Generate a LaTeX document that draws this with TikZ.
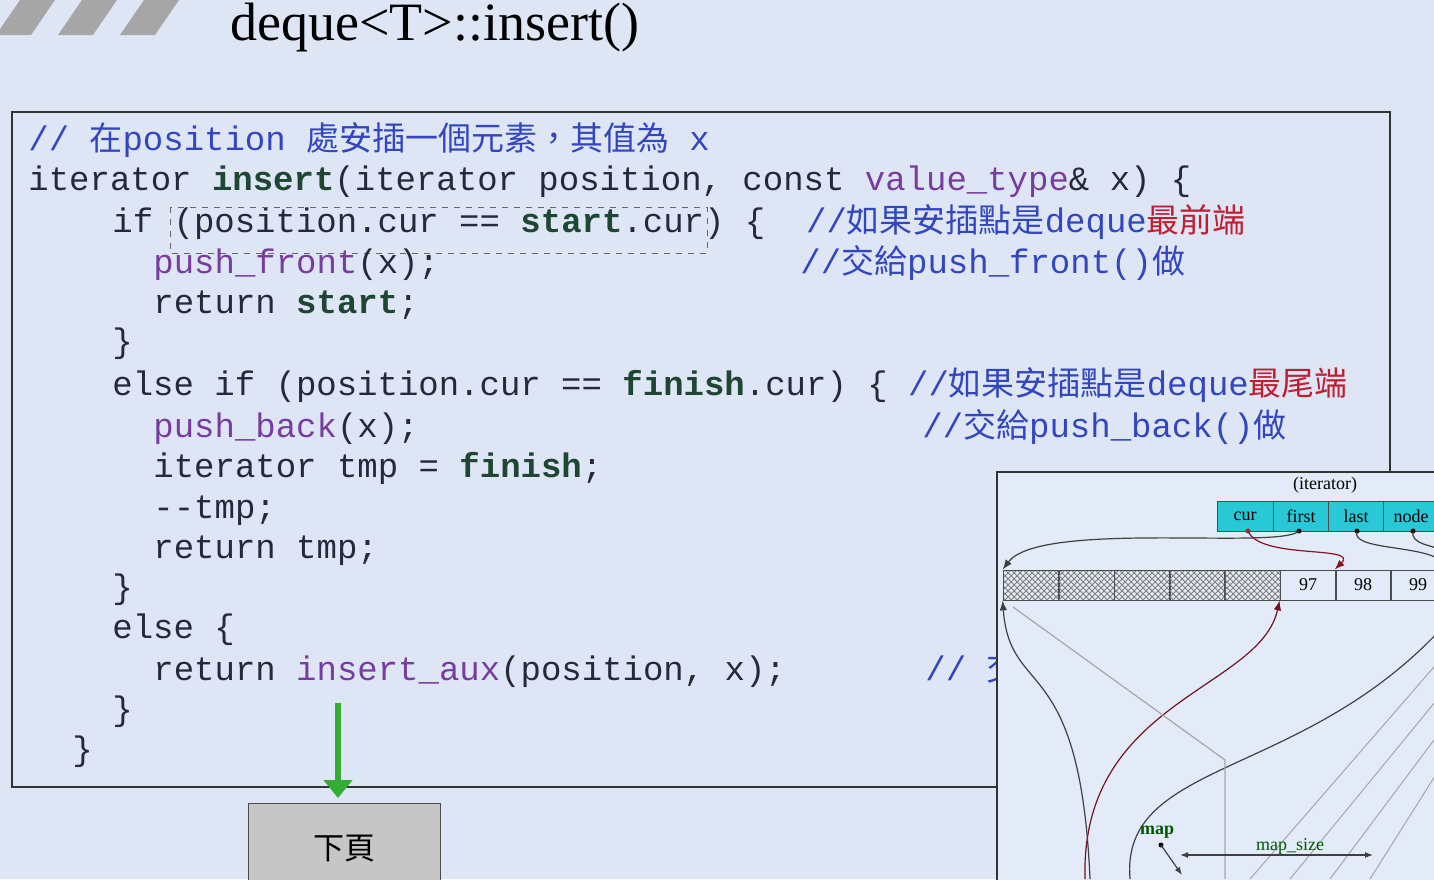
\documentclass[tikz,border=0pt]{standalone}
\usepackage{fontspec}
\setmainfont{Liberation Serif}
\setmonofont{Liberation Mono}
\newfontfamily\cjk[Scale=0.97]{Noto Sans CJK TC}
\usetikzlibrary{patterns,arrows.meta}
\definecolor{bgc}{RGB}{222,230,246}
\definecolor{cmt}{RGB}{50,70,190}
\definecolor{kw}{RGB}{30,70,50}
\definecolor{fn}{RGB}{120,60,160}
\definecolor{txt}{RGB}{40,40,60}
\definecolor{rd}{RGB}{190,30,50}
\definecolor{cyanf}{RGB}{40,200,215}
\newcommand{\K}[1]{\textcolor{kw}{\bfseries #1}}
\newcommand{\F}[1]{\textcolor{fn}{#1}}
\newcommand{\C}[1]{\textcolor{cmt}{#1}}
\newcommand{\Z}[1]{{\cjk #1}}
\begin{document}
\begin{tikzpicture}[x=0.5pt,y=-0.5pt,
  code/.style={anchor=base west,inner sep=0pt,font=\ttfamily\fontsize{17}{20}\selectfont,text=txt},
  cell/.style={draw=black!70,minimum width=28pt,minimum height=15pt,inner sep=0pt,font=\fontsize{9}{10}\selectfont},
  wire/.style={draw=black!75,line width=0.6pt}]
\useasboundingbox (0,0) rectangle (1434,879);
\fill[bgc] (0,0) rectangle (1434,879);
% title stripes
\foreach \x in {0,62,124}{\fill[gray!70] (\x-4,35)--(\x+20,0)--(\x+55,0)--(\x+31,35)--cycle;}
\node[anchor=base west,inner sep=0pt,font=\fontsize{27}{30}\selectfont] (title) at (230,40) {deque<T>::insert()};
% main frame
\draw[black!80,line width=0.8pt] (12,112) rectangle (1390,787);
\node[code] (l1) at (28,150) {\C{// \Z{在}position \Z{處安插一個元素，其值為} x}};
\node[code] (l2) at (28,190) {iterator \K{insert}(iterator position, const \F{value\_type}\& x) \{};
\node[code] (l3) at (112,232) {if (position.cur == \K{start}.cur) \{ \ \C{//\Z{如果安插點是}deque\textcolor{rd}{\Z{最前端}}}};
\draw[black!60,dashed,line width=0.5pt] (170,207) rectangle (707,253);
\node[code] (l4) at (153,273) {\F{push\_front}(x);};
\node[code] (l4c) at (800,273) {\C{//\Z{交給}push\_front()\Z{做}}};
\node[code] (l5) at (153,313) {return \K{start};};
\node[code] (l6) at (112,352) {\}};
\node[code] (l7) at (112,395) {else if (position.cur == \K{finish}.cur) \{ \C{//\Z{如果安插點是}deque\textcolor{rd}{\Z{最尾端}}}};
\node[code] (l8) at (153,437) {\F{push\_back}(x);};
\node[code] (l8c) at (922,437) {\C{//\Z{交給}push\_back()\Z{做}}};
\node[code] (l9) at (153,477) {iterator tmp = \K{finish};};
\node[code] (l10) at (153,518) {--tmp;};
\node[code] (l11) at (153,558) {return tmp;};
\node[code] (l12) at (112,598) {\}};
\node[code] (l13) at (112,638) {else \{};
\node[code] (l14) at (153,680) {return \F{insert\_aux}(position, x);};
\node[code] (l14c) at (925,680) {\C{// \Z{交}}};
\node[code] (l15) at (112,720) {\}};
\node[code] (l16) at (72,760) {\}};
% next page
\coordinate (ga) at (338,703);
\node[draw=black!70,fill=gray!45,minimum width=96pt,minimum height=45pt,anchor=north west,inner sep=0pt,font=\cjk\fontsize{16}{20}\selectfont] (next) at (248,803) {下頁};
\draw[green!60!black!80,line width=3pt,-{Triangle[length=9pt,width=14pt]}] (ga) -- (338,798);
% inset
\fill[bgc!80!white,draw=black!80,line width=0.8pt] (997,472) rectangle (1445,890);
\node[font=\fontsize{9}{10}\selectfont] (itl) at (1325,485) {(iterator)};
\foreach \n/\t/\x in {cur/cur/1245,first/first/1301,last/last/1356,node/node/1411}
  \node[cell,fill=cyanf,minimum height=15pt] (f\n) at (\x,516) {\t};
\foreach \i/\x in {1/1031,2/1086,3/1142,4/1197,5/1252}
  \node[cell,pattern=crosshatch,pattern color=black!50] (b\i) at (\x,585) {};
\node[cell] (b6) at (1308,585) {97};
\node[cell] (b7) at (1363,585) {98};
\node[cell] (b8) at (1418,585) {99};
\coordinate (cd) at (1248,531); \coordinate (fd) at (1299,531);
\coordinate (ld) at (1357,531); \coordinate (nd) at (1413,531);
\fill (fd) circle (2.5) (ld) circle (2.5) (nd) circle (2.5); \fill[rd] (cd) circle (2.5);
\draw[wire,-{Latex[length=5pt]}] (fd) .. controls (1280,550) and (1040,520) .. (b1.north west);
\draw[wire,draw=rd!70!black,-{Latex[length=5pt]}] (cd) .. controls (1260,560) and (1360,545) .. (b7.north west);
\draw[wire] (ld) .. controls (1350,550) and (1420,545) .. (1440,560);
\draw[wire] (nd) .. controls (1410,545) and (1434,545) .. (1440,550);
\draw[wire,draw=rd!60!black,-{Latex[length=5pt]}] (1085,879) .. controls (1080,700) and (1260,690) .. (b6.south west);
\draw[wire,-{Latex[length=5pt]}] (1090,879) .. controls (1080,650) and (1010,700) .. (b1.south west);
\draw[wire] (1130,879) .. controls (1120,760) and (1300,780) .. (1440,630);
\draw[gray!70,line width=0.6pt] (1013,607) -- (1225,760) -- (1225,879);
\foreach \s in {0,40,80,120}{\draw[gray!70,line width=0.5pt] (1250+\s,879) -- (1440,660+\s*0.9);}
\node[font=\bfseries\fontsize{9}{10}\selectfont,text=green!35!black] (map) at (1157,832) {map};
\coordinate (md) at (1161,845); \fill (md) circle (2.5);
\draw[wire,-{Latex[length=4pt]}] (md) -- (1182,875);
\node[font=\fontsize{9}{10}\selectfont,text=green!35!black] (msz) at (1290,846) {map\_size};
\coordinate (ma) at (1180,855); \coordinate (mb) at (1373,855);
\draw[wire,{Latex[length=4pt]}-{Latex[length=4pt]}] (ma) -- (mb);
\end{tikzpicture}
\end{document}
